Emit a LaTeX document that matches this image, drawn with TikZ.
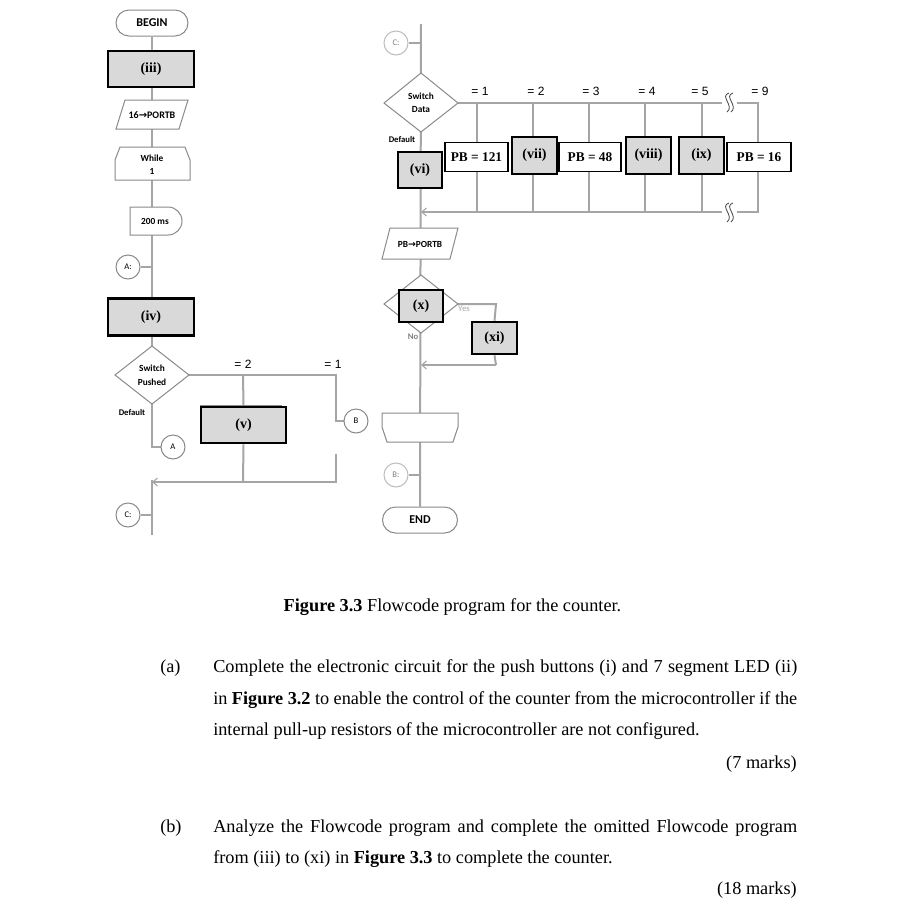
\documentclass[tikz,border=0pt]{standalone}
\usepackage{fontspec}
\setmainfont{Liberation Serif}
\setsansfont{Liberation Sans}
\newfontfamily\fcfont{Carlito}
\newfontfamily\dvfont{DejaVu Sans}
\usetikzlibrary{shapes.misc,shapes.geometric,arrows.meta,backgrounds}
\definecolor{linegray}{HTML}{A5A5A5}
\definecolor{shapegray}{HTML}{8A8A8A}
\definecolor{boxgray}{HTML}{D9D9D9}
\definecolor{fadegray}{HTML}{BDBDBD}
\def\pxu{0.75pt}
\tikzset{
  flow/.style={draw=linegray, line width=1.5pt},
  shp/.style={draw=shapegray, line width=0.75pt, fill=white},
  fct/.style={font=\fcfont\bfseries\fontsize{7}{8}\selectfont, inner sep=0pt},
  fctf/.style={font=\fcfont\bfseries\fontsize{6.5}{8}\selectfont, inner sep=0pt, text=fadegray},
  gbox/.style={draw=black, line width=1.9pt, fill=boxgray, font=\bfseries\fontsize{10.5}{12}\selectfont, inner sep=0pt},
  wbox/.style={draw=black, line width=0.8pt, fill=white, font=\bfseries\fontsize{10}{12}\selectfont, inner sep=0pt},
  conn/.style={circle, draw=shapegray, line width=0.75pt, fill=white, minimum size=24*\pxu, inner sep=0pt, font=\fcfont\fontsize{6.5}{7}\selectfont},
  connf/.style={conn, draw=fadegray, text=gray},
  caselbl/.style={font=\sffamily\fontsize{9}{10}\selectfont, inner sep=0pt},
  tip/.style={-{Straight Barb[length=3.5pt,width=6pt,line width=0.8pt]}},
  stad/.style={rounded rectangle, draw=shapegray, line width=0.75pt, fill=white, font=\fcfont\bfseries\fontsize{9}{10}\selectfont, inner sep=0pt},
  para/.style={font=\fontsize{13.7}{16}\selectfont, inner sep=0pt, anchor=base west},
  parar/.style={font=\fontsize{13.7}{16}\selectfont, inner sep=0pt, anchor=base east},
  squig/.style={draw=black!75, line width=0.6pt},
}
\begin{document}
\begin{tikzpicture}[x=0.75pt,y=-0.75pt]
\begin{pgfonlayer}{background}
\fill[white] (0,0) rectangle (901,908);
\end{pgfonlayer}
\useasboundingbox (0,0) rectangle (901,908);

% ---------------- LEFT COLUMN ----------------
\node[stad, minimum width=72*\pxu, minimum height=26*\pxu] (begin) at (152,23) {BEGIN};
\node[gbox, minimum width=86*\pxu, minimum height=36*\pxu] (n3) at (151,69) {(iii)};
\draw[shp] (116,129) -- (125,100) -- (188,100) -- (179,129) -- cycle;
\node[fct, font=\fcfont\bfseries\fontsize{7.5}{8}\selectfont] (t16) at (152,115) {16{\dvfont\bfseries →}PORTB};
\draw[shp] (120,147) -- (185,147) -- (190,160) -- (190,180) -- (115,180) -- (115,160) -- cycle;
\node[fct] (wh1) at (152,158) {While};
\node[fct] (wh2) at (152,171) {1};
\draw[shp] (130,207) -- (168,207) arc[start angle=-90, end angle=90, radius=14] -- (130,235) -- cycle;
\node[fct] (d200) at (155,221) {200 ms};
\node[conn] (cA1) at (128,267) {A:};
\node[gbox, minimum width=86*\pxu, minimum height=37*\pxu] (n4) at (151,317) {(iv)};
\draw[shp] (152,346) -- (189,375) -- (152,404) -- (115,375) -- cycle;
\node[fct] (sw1a) at (152,368) {Switch};
\node[fct] (sw1b) at (152,382) {Pushed};
\node[caselbl] (l2) at (243,364) {= 2};
\node[caselbl] (l1) at (333,364) {= 1};
\draw[shapegray, line width=0.6pt] (200,405) -- (282,405);
\node[gbox, minimum width=85*\pxu, minimum height=36*\pxu] (n5) at (243.5,425) {(v)};
\node[conn] (cB) at (356,421) {B};
\node[fct, font=\fcfont\bfseries\fontsize{6.5}{8}\selectfont] (def1) at (132,412) {Default};
\node[conn] (cA2) at (173,447) {A};
\node[conn] (cC1) at (128,515) {C:};
\coordinate (s1) at (152,375);
\coordinate (r1) at (336,375);
\coordinate (m1) at (152,482);

% ---------------- RIGHT COLUMN ----------------
\node[connf] (cC2) at (396,43) {C:};
\draw[shp] (421,73) -- (458,103) -- (421,132) -- (384,103) -- cycle;
\node[fct] (sw2a) at (421,96) {Switch};
\node[fct] (sw2b) at (421,110) {Data};
\node[caselbl] (k1) at (480,91) {= 1};
\node[caselbl] (k2) at (536,91) {= 2};
\node[caselbl] (k3) at (591,91) {= 3};
\node[caselbl] (k4) at (647,91) {= 4};
\node[caselbl] (k5) at (700,91) {= 5};
\node[caselbl] (k9) at (760,91) {= 9};
\node[fct, font=\fcfont\bfseries\fontsize{6.5}{8}\selectfont] (def2) at (402,139) {Default};
\node[gbox, minimum width=44*\pxu, minimum height=36*\pxu] (n6) at (420,170) {(vi)};
\node[wbox, minimum width=63*\pxu, minimum height=29*\pxu] (w1) at (476.5,157) {PB = 121};
\node[gbox, minimum width=45*\pxu, minimum height=37*\pxu] (n7) at (534.5,155.5) {(vii)};
\node[wbox, minimum width=62*\pxu, minimum height=29*\pxu] (w2) at (590,157) {PB = 48};
\node[gbox, minimum width=45*\pxu, minimum height=37*\pxu] (n8) at (648.5,155.5) {(viii)};
\node[gbox, minimum width=45*\pxu, minimum height=37*\pxu] (n9) at (701.5,155.5) {(ix)};
\node[wbox, minimum width=64*\pxu, minimum height=29*\pxu] (w3) at (759,157) {PB = 16};
\draw[shp] (382,259) -- (390,228) -- (458,228) -- (450,259) -- cycle;
\node[fct] (tpb) at (420,244) {PB{\dvfont\bfseries →}PORTB};
\draw[shp] (421,275) -- (458,304) -- (421,333) -- (384,304) -- cycle;
\node[gbox, minimum width=44*\pxu, minimum height=32*\pxu] (n10) at (421,306) {(x)};
\node[gbox, minimum width=45*\pxu, minimum height=32*\pxu] (n11) at (494.5,338) {(xi)};
\node[fctf] (yes) at (464,309) {Yes};
\node[fctf, text=gray] (no) at (413,337) {No};
\draw[shp] (382,413) -- (458,413) -- (458,427) -- (453,442) -- (387,442) -- (382,427) -- cycle;
\node[connf] (cB2) at (396,475) {B:};
\node[stad, minimum width=75*\pxu, minimum height=26*\pxu] (end) at (420,520) {END};
\coordinate (s2) at (421,103);
\coordinate (r2) at (758,103);
\coordinate (m2) at (421,212);
\coordinate (y1) at (458,304);
\coordinate (m3) at (421,365);

% squiggle break marks
\foreach \yy in {93,203}{
  \draw[squig] (729,\yy) .. controls (719,\yy+3) and (735,\yy+13) .. (727,\yy+19);
  \draw[squig] (733,\yy) .. controls (723,\yy+3) and (739,\yy+13) .. (731,\yy+19);
}

% ---------------- CONNECTORS (behind) ----------------
\begin{pgfonlayer}{background}
% left
\draw[flow] (begin.south) -- (152,447) -- (cA2.west);
\draw[flow] (cA1.east) -- (152,267);
\draw[flow] (s1) -- (r1) -- (336,421) -- (cB.west);
\draw[flow] (243,375) -- (n5.north);
\draw[flow] (n5.south) -- (243,482);
\draw[flow] (336,454) -- (336,482) -- (243,482);
\draw[flow, tip] (243,482) -- (m1);
\draw[flow] (152,480) -- (152,535);
\draw[flow] (cC1.east) -- (152,515);
% right
\draw[flow] (421,24) -- (end.north);
\draw[flow] (cC2.east) -- (421,43);
\draw[flow] (s2) -- (722,103);
\draw[flow] (737,103) -- (r2) -- (758,212) -- (737,212);
\foreach \xx in {477,533,589,645,702}{\draw[flow] (\xx,103) -- (\xx,212);}
\draw[flow, tip] (722,212) -- (m2);
\draw[flow] (y1) -- (496,304) -- (n11.north);
\draw[flow] (n11.south) -- (496,365);
\draw[flow, tip] (496,365) -- (m3);
\draw[flow] (cB2.east) -- (421,475);
\end{pgfonlayer}

% ---------------- TEXT ----------------
\node[font=\fontsize{13.7}{16}\selectfont, inner sep=0pt, anchor=base] (cap) at (452.5,611) {\textbf{Figure 3.3} Flowcode program for the counter.};
\node[para] (pa) at (160,672) {(a)};
\node[para] (pa1) at (213,672) {\makebox[438pt][s]{Complete the electronic circuit for the push buttons (i) and 7 segment LED (ii)}};
\node[para] (pa2) at (213,704) {\makebox[438pt][s]{in \textbf{Figure 3.2} to enable the control of the counter from the microcontroller if the}};
\node[para] (pa3) at (213,735) {internal pull-up resistors of the microcontroller are not configured.};
\node[parar] (ma) at (797,768) {(7 marks)};
\node[para] (pb) at (160,832) {(b)};
\node[para] (pb1) at (213,832) {\makebox[438pt][s]{Analyze the Flowcode program and complete the omitted Flowcode program}};
\node[para] (pb2) at (213,863) {from (iii) to (xi) in \textbf{Figure 3.3} to complete the counter.};
\node[parar] (mb) at (797,894) {(18 marks)};
\end{tikzpicture}
\end{document}
